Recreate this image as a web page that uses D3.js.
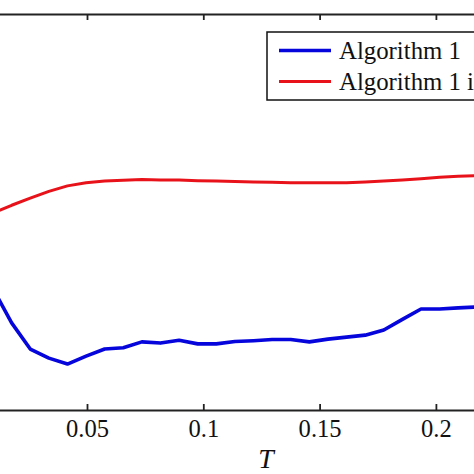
<!DOCTYPE html>
<html>
<head>
<meta charset="utf-8">
<script src="https://cdn.jsdelivr.net/npm/d3@7"></script>
<style>
  body { margin: 0; background: #fff; }
  svg { display: block; }
  text { font-family: "Liberation Serif", "Times New Roman", serif; fill: #111; }
</style>
</head>
<body>
<div id="graphic"></div>
<script>
// data
const T = [0.0096, 0.0176, 0.0256, 0.0336, 0.0416, 0.0496, 0.0576, 0.0656, 0.0736,
           0.0816, 0.0896, 0.0976, 0.1056, 0.1136, 0.1216, 0.1296, 0.1376, 0.1456,
           0.1536, 0.1616, 0.1696, 0.1776, 0.1856, 0.1936, 0.2016, 0.2096, 0.2176];
const alg1 = [0.306, 0.220, 0.154, 0.131, 0.116, 0.136, 0.154, 0.157, 0.172,
              0.169, 0.176, 0.167, 0.167, 0.173, 0.175, 0.178, 0.178, 0.172,
              0.179, 0.184, 0.189, 0.202, 0.229, 0.255, 0.255, 0.258, 0.260];
const alg1b = [0.497, 0.517, 0.535, 0.552, 0.566, 0.574, 0.578, 0.580, 0.582,
               0.581, 0.581, 0.579, 0.578, 0.577, 0.576, 0.575, 0.574, 0.574,
               0.574, 0.574, 0.576, 0.578, 0.581, 0.584, 0.588, 0.590, 0.592];
const seriesNames = ["Algorithm 1", "Algorithm 1 in the ideal case"];
const seriesColors = ["#0505dc", "#e8121a"];
const xTicks = [0.05, 0.1, 0.15, 0.2];

const width = 474, height = 474;
const plotTop = 14, plotBottom = 410;

const svg = d3.select("#graphic")
    .append("svg")
    .attr("width", width)
    .attr("height", height);

// pick a font size so that a sample string comes out at the wanted width
function fitSize(sample, wantWidth, style) {
    const t = svg.append("text")
        .style("font-size", "20px")
        .style("font-style", style || "normal")
        .text(sample);
    const w = t.node().getComputedTextLength();
    t.remove();
    return 20 * wantWidth / w;
}
const legendSize = fitSize("Algorithm 1", 122);
const tickSize = fitSize("0.05", 43);

// the figure is cropped: x=0 of the axis sits off the left edge
const x = d3.scaleLinear()
    .domain([0, 0.25])
    .range([-29.3, 552.2]);

const y = d3.scaleLinear()
    .domain([0, 1])
    .range([plotBottom, plotTop]);

svg.append("clipPath").attr("id", "plot-clip")
    .append("rect")
    .attr("x", x(0)).attr("y", plotTop)
    .attr("width", x(0.25) - x(0)).attr("height", plotBottom - plotTop);

// bottom axis, ticks point inward
const xAxis = svg.append("g")
    .attr("transform", `translate(0, ${plotBottom})`)
    .call(d3.axisBottom(x)
        .tickValues(xTicks)
        .tickFormat(d => String(d))
        .tickSize(-6)
        .tickSizeOuter(0)
        .tickPadding(10));
xAxis.attr("font-family", null).attr("font-size", null);
xAxis.selectAll("text")
    .style("font-size", tickSize + "px");

// top axis, no labels
svg.append("g")
    .attr("transform", `translate(0, ${plotTop})`)
    .call(d3.axisTop(x)
        .tickValues(xTicks)
        .tickFormat("")
        .tickSize(-6)
        .tickSizeOuter(0));

svg.selectAll(".domain, .tick line")
    .attr("stroke", "#222")
    .attr("stroke-width", 1.8);

const plot = svg.append("g").attr("clip-path", "url(#plot-clip)");

[alg1, alg1b].forEach(function(vals, i) {
    plot.append("path")
        .datum(vals)
        .attr("fill", "none")
        .attr("stroke", seriesColors[i])
        .attr("stroke-width", i === 0 ? 3.6 : 3)
        .attr("stroke-linejoin", "round")
        .attr("d", d3.line()
            .x((d, j) => x(T[j]))
            .y(d => y(d)));
});

// legend
const legend = svg.append("g");
legend.append("rect")
    .attr("x", 267).attr("y", 32)
    .attr("width", 300).attr("height", 68)
    .attr("fill", "#fff")
    .attr("stroke", "#111")
    .attr("stroke-width", 1.5);

seriesNames.forEach(function(name, i) {
    const ly = 50.5 + i * 31;
    legend.append("line")
        .attr("x1", 279).attr("x2", 331)
        .attr("y1", ly).attr("y2", ly)
        .attr("stroke", seriesColors[i])
        .attr("stroke-width", i === 0 ? 3.6 : 3);
    legend.append("text")
        .attr("x", 339).attr("y", ly + 8.5)
        .style("font-size", legendSize + "px")
        .text(name);
});

// axis label
svg.append("text")
    .attr("x", 266).attr("y", 468)
    .attr("text-anchor", "middle")
    .style("font-size", (legendSize * 1.12) + "px")
    .style("font-style", "italic")
    .text("T");
</script>
</body>
</html>
